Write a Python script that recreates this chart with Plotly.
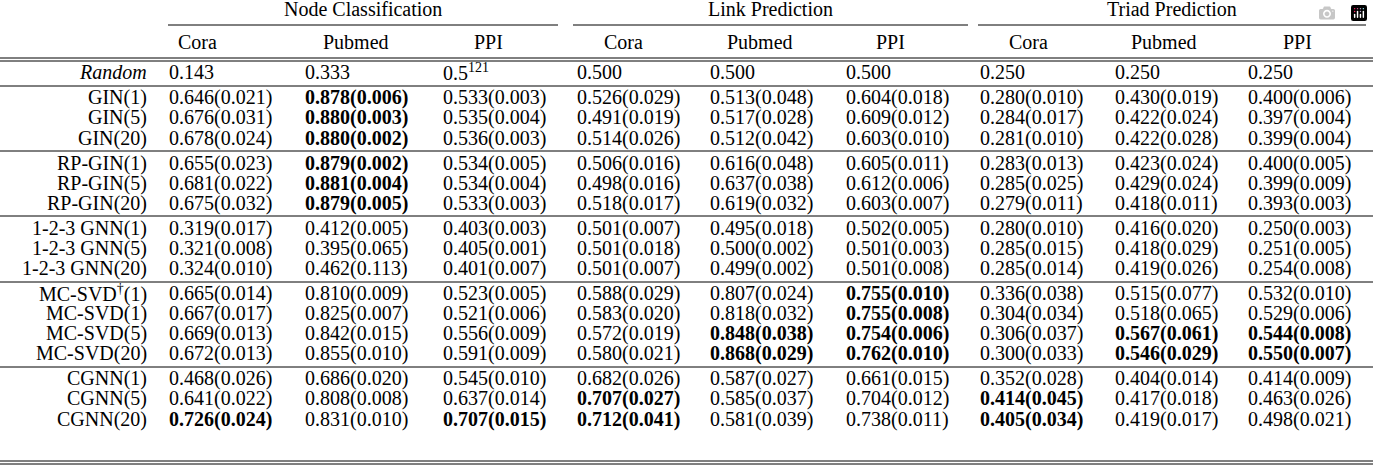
import plotly.graph_objects as go

groups = ["Node Classification", "Link Prediction", "Triad Prediction"]
datasets = ["Cora", "Pubmed", "PPI"] * 3
random_row = ["0.143", "0.333", "0.5<sup>121</sup>", "0.500", "0.500", "0.500", "0.250", "0.250", "0.250"]
methods = ["GIN(1)", "GIN(5)", "GIN(20)", "RP-GIN(1)", "RP-GIN(5)", "RP-GIN(20)",
           "1-2-3 GNN(1)", "1-2-3 GNN(5)", "1-2-3 GNN(20)",
           "MC-SVD<sup>†</sup>(1)", "MC-SVD(1)", "MC-SVD(5)", "MC-SVD(20)",
           "CGNN(1)", "CGNN(5)", "CGNN(20)"]
means = [
    [0.646, 0.878, 0.533, 0.526, 0.513, 0.604, 0.280, 0.430, 0.400],
    [0.676, 0.880, 0.535, 0.491, 0.517, 0.609, 0.284, 0.422, 0.397],
    [0.678, 0.880, 0.536, 0.514, 0.512, 0.603, 0.281, 0.422, 0.399],
    [0.655, 0.879, 0.534, 0.506, 0.616, 0.605, 0.283, 0.423, 0.400],
    [0.681, 0.881, 0.534, 0.498, 0.637, 0.612, 0.285, 0.429, 0.399],
    [0.675, 0.879, 0.533, 0.518, 0.619, 0.603, 0.279, 0.418, 0.393],
    [0.319, 0.412, 0.403, 0.501, 0.495, 0.502, 0.280, 0.416, 0.250],
    [0.321, 0.395, 0.405, 0.501, 0.500, 0.501, 0.285, 0.418, 0.251],
    [0.324, 0.462, 0.401, 0.501, 0.499, 0.501, 0.285, 0.419, 0.254],
    [0.665, 0.810, 0.523, 0.588, 0.807, 0.755, 0.336, 0.515, 0.532],
    [0.667, 0.825, 0.521, 0.583, 0.818, 0.755, 0.304, 0.518, 0.529],
    [0.669, 0.842, 0.556, 0.572, 0.848, 0.754, 0.306, 0.567, 0.544],
    [0.672, 0.855, 0.591, 0.580, 0.868, 0.762, 0.300, 0.546, 0.550],
    [0.468, 0.686, 0.545, 0.682, 0.587, 0.661, 0.352, 0.404, 0.414],
    [0.641, 0.808, 0.637, 0.707, 0.585, 0.704, 0.414, 0.417, 0.463],
    [0.726, 0.831, 0.707, 0.712, 0.581, 0.738, 0.405, 0.419, 0.498],
]
stds = [
    [0.021, 0.006, 0.003, 0.029, 0.048, 0.018, 0.010, 0.019, 0.006],
    [0.031, 0.003, 0.004, 0.019, 0.028, 0.012, 0.017, 0.024, 0.004],
    [0.024, 0.002, 0.003, 0.026, 0.042, 0.010, 0.010, 0.028, 0.004],
    [0.023, 0.002, 0.005, 0.016, 0.048, 0.011, 0.013, 0.024, 0.005],
    [0.022, 0.004, 0.004, 0.016, 0.038, 0.006, 0.025, 0.024, 0.009],
    [0.032, 0.005, 0.003, 0.017, 0.032, 0.007, 0.011, 0.011, 0.003],
    [0.017, 0.005, 0.003, 0.007, 0.018, 0.005, 0.010, 0.020, 0.003],
    [0.008, 0.065, 0.001, 0.018, 0.002, 0.003, 0.015, 0.029, 0.005],
    [0.010, 0.113, 0.007, 0.007, 0.002, 0.008, 0.014, 0.026, 0.008],
    [0.014, 0.009, 0.005, 0.029, 0.024, 0.010, 0.038, 0.077, 0.010],
    [0.017, 0.007, 0.006, 0.020, 0.032, 0.008, 0.034, 0.065, 0.006],
    [0.013, 0.015, 0.009, 0.019, 0.038, 0.006, 0.037, 0.061, 0.008],
    [0.013, 0.010, 0.009, 0.021, 0.029, 0.010, 0.033, 0.029, 0.007],
    [0.026, 0.020, 0.010, 0.026, 0.027, 0.015, 0.028, 0.014, 0.009],
    [0.022, 0.008, 0.014, 0.027, 0.037, 0.012, 0.045, 0.018, 0.026],
    [0.024, 0.010, 0.015, 0.041, 0.039, 0.011, 0.034, 0.017, 0.021],
]
bold = [(0,1),(1,1),(2,1),(3,1),(4,1),(5,1),(9,5),(10,5),(11,4),(11,5),(11,7),(11,8),
        (12,4),(12,5),(12,7),(12,8),(14,3),(14,6),(15,0),(15,2),(15,3),(15,6)]

W, H = 1373, 468
FONT = dict(family="Liberation Serif, Times New Roman, serif", size=20, color="black")
col_x = [168, 304, 442, 576, 709, 845, 979, 1114, 1247]
head_x = [197, 356, 488, 623, 760, 890, 1028, 1164, 1297]
group_x = [363, 770, 1172]
group_span = [(168, 558), (573, 968), (978, 1366)]
label_x = 148
random_y = 72
row_y = [97, 117, 137, 162, 182, 202, 227, 247, 267, 292, 312, 332, 352, 377, 397, 418]
row_y = [97, 117, 138, 163, 183, 203, 228, 248, 268, 293, 313, 333, 353, 378, 398, 419]

fig = go.Figure()
ann = []
def txt(x, y, t, anchor="left"):
    ann.append(dict(x=x, y=y, xref="x", yref="y", text=t, showarrow=False,
                    xanchor=anchor, yanchor="middle", font=FONT, borderpad=0))

for g, gx in zip(groups, group_x):
    txt(gx, 9, g, "center")
for d, hx in zip(datasets, head_x):
    txt(hx, 42, d, "center")
txt(label_x, random_y, "<i>Random</i>", "right")
for v, cx in zip(random_row, col_x):
    txt(cx, random_y, v)
for i, m in enumerate(methods):
    txt(label_x, row_y[i], m, "right")
    for j in range(9):
        s = f"{means[i][j]:.3f}({stds[i][j]:.3f})"
        if (i, j) in bold:
            s = f"<b>{s}</b>"
        txt(col_x[j], row_y[i], s)

shapes = []
def hline(x0, x1, y, w=1):
    shapes.append(dict(type="line", xref="x", yref="y", x0=x0, x1=x1, y0=y, y1=y,
                       line=dict(color="black", width=w)))
for a, b in group_span:
    hline(a, b, 25)
hline(0, W, 58); hline(0, W, 61)
for y in [86, 151, 216, 282, 367]:
    hline(0, W, y)
hline(0, W, 461); hline(0, W, 464)

fig.update_layout(width=W, height=H, margin=dict(l=0, r=0, t=0, b=0),
                  plot_bgcolor="white", paper_bgcolor="white",
                  xaxis=dict(range=[0, W], visible=False, fixedrange=True),
                  yaxis=dict(range=[H, 0], visible=False, fixedrange=True),
                  annotations=ann, shapes=shapes, showlegend=False)
fig.write_html("out.html", post_script="document.body.style.margin='0';document.body.style.overflow='hidden';")
